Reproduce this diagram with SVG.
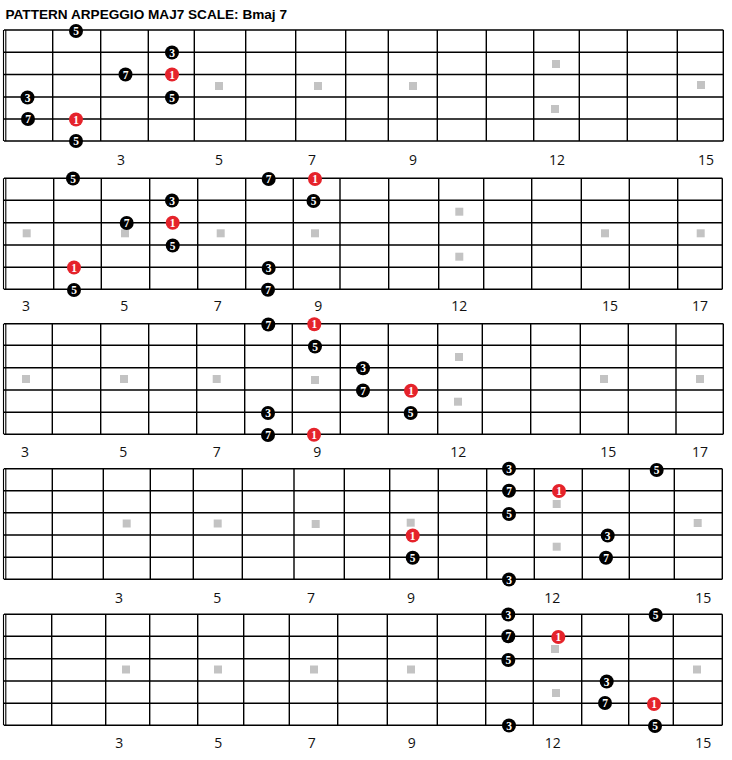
<svg xmlns="http://www.w3.org/2000/svg" width="732" height="760" viewBox="0 0 732 760">
<style>
.ln{fill:none;stroke:#000;stroke-width:1.4}
.nut{fill:none;stroke:#000;stroke-width:1.1}
.mk{fill:#c3c3c3}
.lbl{font-family:"Open Sans","Liberation Sans",sans-serif;font-size:14px;fill:#111;text-anchor:middle}
.title{font-family:"Liberation Sans",Arial,sans-serif;font-weight:bold;font-size:13.6px;fill:#000}
.nt circle{fill:#000}
.nt.r circle{fill:#e5232b}
.nt text{font-family:"Liberation Serif","Times New Roman",serif;font-weight:bold;font-size:11.5px;fill:#fff;text-anchor:middle}
</style>
<rect width="732" height="760" fill="#fff"/>
<text class="title" x="5.5" y="19.3">PATTERN ARPEGGIO MAJ7 SCALE: Bmaj 7</text>

<g id="diagram1">
<path class="ln" d="M4 30H723.3M4 52.3H723.3M4 74.5H723.3M4 97H723.3M4 119H723.3M4 141H723.3"/>
<path class="ln" d="M52.7 30V141M100.7 30V141M148.3 30V141M194.3 30V141M245.7 30V141M295.7 30V141M345.7 30V141M388.3 30V141M437.3 30V141M486.3 30V141M533.7 30V141M579.3 30V141M627.3 30V141M677.3 30V141M723.3 30V141"/>
<path class="nut" d="M3.5 30V141M5.8 30V141"/>
<rect class="mk" x="215" y="82" width="8" height="8"/>
<rect class="mk" x="314" y="82" width="8" height="8"/>
<rect class="mk" x="409" y="82" width="8" height="8"/>
<rect class="mk" x="552" y="60" width="8" height="8"/>
<rect class="mk" x="551" y="105" width="8" height="8"/>
<rect class="mk" x="697" y="81" width="8" height="8"/>
<text class="lbl" x="121" y="164.5">3</text>
<text class="lbl" x="219" y="164.5">5</text>
<text class="lbl" x="312" y="164.5">7</text>
<text class="lbl" x="413" y="164.5">9</text>
<text class="lbl" x="557" y="164.5">12</text>
<text class="lbl" x="706" y="164.5">15</text>
</g>
<g id="d1-n1" class="nt"><circle cx="76" cy="31" r="7"/><text x="76" y="35">5</text></g>
<g id="d1-n2" class="nt"><circle cx="172" cy="52.5" r="7"/><text x="172" y="56.5">3</text></g>
<g id="d1-n3" class="nt"><circle cx="125.5" cy="74.5" r="7"/><text x="125.5" y="78.5">7</text></g>
<g id="d1-n4" class="nt r"><circle cx="172" cy="74.5" r="7"/><text x="172" y="78.5">1</text></g>
<g id="d1-n5" class="nt"><circle cx="27.5" cy="97.5" r="7"/><text x="27.5" y="101.5">3</text></g>
<g id="d1-n6" class="nt"><circle cx="172" cy="97.5" r="7"/><text x="172" y="101.5">5</text></g>
<g id="d1-n7" class="nt"><circle cx="28" cy="119" r="7"/><text x="28" y="123">7</text></g>
<g id="d1-n8" class="nt r"><circle cx="76" cy="119.5" r="7"/><text x="76" y="123.5">1</text></g>
<g id="d1-n9" class="nt"><circle cx="76" cy="141" r="7"/><text x="76" y="145">5</text></g>

<g id="diagram2">
<path class="ln" d="M4 178.3H722.3M4 200.3H722.3M4 222.7H722.3M4 245H722.3M4 267.3H722.3M4 289.3H722.3"/>
<path class="ln" d="M53.7 178.3V289.3M101.3 178.3V289.3M149.7 178.3V289.3M197.7 178.3V289.3M245.7 178.3V289.3M293.3 178.3V289.3M340 178.3V289.3M388.7 178.3V289.3M438.7 178.3V289.3M483.7 178.3V289.3M531.7 178.3V289.3M581.3 178.3V289.3M629.3 178.3V289.3M677.7 178.3V289.3M722.3 178.3V289.3"/>
<path class="nut" d="M3.5 178.3V289.3M5.8 178.3V289.3"/>
<rect class="mk" x="22.7" y="229.3" width="8" height="8"/>
<rect class="mk" x="121" y="229.3" width="8" height="8"/>
<rect class="mk" x="216.7" y="229.3" width="8" height="8"/>
<rect class="mk" x="311" y="229.3" width="8" height="8"/>
<rect class="mk" x="455.3" y="207.7" width="8" height="8"/>
<rect class="mk" x="455.3" y="252.7" width="8" height="8"/>
<rect class="mk" x="601" y="229.3" width="8" height="8"/>
<rect class="mk" x="696.7" y="229.3" width="8" height="8"/>
<text class="lbl" x="26" y="311">3</text>
<text class="lbl" x="124.3" y="311">5</text>
<text class="lbl" x="217.7" y="311">7</text>
<text class="lbl" x="318.3" y="311">9</text>
<text class="lbl" x="459.3" y="311">12</text>
<text class="lbl" x="610" y="311">15</text>
<text class="lbl" x="700" y="311">17</text>
</g>
<g id="d2-n1" class="nt"><circle cx="73" cy="178.5" r="7"/><text x="73" y="182.5">5</text></g>
<g id="d2-n2" class="nt"><circle cx="268.7" cy="179" r="7"/><text x="268.7" y="183">7</text></g>
<g id="d2-n3" class="nt r"><circle cx="315" cy="179" r="7"/><text x="315" y="183">1</text></g>
<g id="d2-n4" class="nt"><circle cx="172" cy="200.5" r="7"/><text x="172" y="204.5">3</text></g>
<g id="d2-n5" class="nt"><circle cx="313.5" cy="201" r="7"/><text x="313.5" y="205">5</text></g>
<g id="d2-n6" class="nt"><circle cx="126.7" cy="223" r="7"/><text x="126.7" y="227">7</text></g>
<g id="d2-n7" class="nt r"><circle cx="172.7" cy="222.7" r="7"/><text x="172.7" y="226.7">1</text></g>
<g id="d2-n8" class="nt"><circle cx="172.7" cy="245.5" r="7"/><text x="172.7" y="249.5">5</text></g>
<g id="d2-n9" class="nt r"><circle cx="74" cy="267.5" r="7"/><text x="74" y="271.5">1</text></g>
<g id="d2-n10" class="nt"><circle cx="268.7" cy="268" r="7"/><text x="268.7" y="272">3</text></g>
<g id="d2-n11" class="nt"><circle cx="74" cy="290" r="7"/><text x="74" y="294">5</text></g>
<g id="d2-n12" class="nt"><circle cx="268" cy="289.8" r="7"/><text x="268" y="293.8">7</text></g>

<g id="diagram3">
<path class="ln" d="M4 323.7H723.3M4 345.3H723.3M4 367.7H723.3M4 390H723.3M4 412.3H723.3M4 434.3H723.3"/>
<path class="ln" d="M52.3 323.7V434.3M100.7 323.7V434.3M148.7 323.7V434.3M196.7 323.7V434.3M244.7 323.7V434.3M292.3 323.7V434.3M340.3 323.7V434.3M388.3 323.7V434.3M437.7 323.7V434.3M482.3 323.7V434.3M530.7 323.7V434.3M580.3 323.7V434.3M628.3 323.7V434.3M676 323.7V434.3M723.3 323.7V434.3"/>
<path class="nut" d="M3.5 323.7V434.3M5.8 323.7V434.3"/>
<rect class="mk" x="22" y="375" width="8" height="8"/>
<rect class="mk" x="120" y="375" width="8" height="8"/>
<rect class="mk" x="212.7" y="375" width="8" height="8"/>
<rect class="mk" x="311" y="376" width="8" height="8"/>
<rect class="mk" x="455" y="353" width="8" height="8"/>
<rect class="mk" x="454" y="397.7" width="8" height="8"/>
<rect class="mk" x="600" y="375" width="8" height="8"/>
<rect class="mk" x="696" y="375" width="8" height="8"/>
<text class="lbl" x="25" y="457">3</text>
<text class="lbl" x="123.3" y="457">5</text>
<text class="lbl" x="216.7" y="457">7</text>
<text class="lbl" x="317.3" y="457">9</text>
<text class="lbl" x="458.3" y="457">12</text>
<text class="lbl" x="608.3" y="457">15</text>
<text class="lbl" x="700" y="457">17</text>
</g>
<g id="d3-n1" class="nt"><circle cx="268.3" cy="324.5" r="7"/><text x="268.3" y="328.5">7</text></g>
<g id="d3-n2" class="nt r"><circle cx="314.3" cy="324.3" r="7"/><text x="314.3" y="328.3">1</text></g>
<g id="d3-n3" class="nt"><circle cx="315" cy="346.5" r="7"/><text x="315" y="350.5">5</text></g>
<g id="d3-n4" class="nt"><circle cx="363" cy="368.3" r="7"/><text x="363" y="372.3">3</text></g>
<g id="d3-n5" class="nt"><circle cx="363" cy="390.5" r="7"/><text x="363" y="394.5">7</text></g>
<g id="d3-n6" class="nt r"><circle cx="411" cy="390.7" r="7"/><text x="411" y="394.7">1</text></g>
<g id="d3-n7" class="nt"><circle cx="268" cy="413" r="7"/><text x="268" y="417">3</text></g>
<g id="d3-n8" class="nt"><circle cx="410.7" cy="413" r="7"/><text x="410.7" y="417">5</text></g>
<g id="d3-n9" class="nt"><circle cx="268" cy="435" r="7"/><text x="268" y="439">7</text></g>
<g id="d3-n10" class="nt r"><circle cx="314" cy="434.7" r="7"/><text x="314" y="438.7">1</text></g>

<g id="diagram4">
<path class="ln" d="M4 468.7H722.3M4 490.7H722.3M4 512.7H722.3M4 535H722.3M4 557.3H722.3M4 579.3H722.3"/>
<path class="ln" d="M52.3 468.7V579.3M103.3 468.7V579.3M150.3 468.7V579.3M193.3 468.7V579.3M242.3 468.7V579.3M294 468.7V579.3M344.3 468.7V579.3M389.7 468.7V579.3M438.3 468.7V579.3M486.7 468.7V579.3M534.3 468.7V579.3M582.3 468.7V579.3M629.3 468.7V579.3M674.3 468.7V579.3M722.3 468.7V579.3"/>
<path class="nut" d="M3.5 468.7V579.3M5.8 468.7V579.3"/>
<rect class="mk" x="122.7" y="519.5" width="8" height="8"/>
<rect class="mk" x="213.7" y="519.5" width="8" height="8"/>
<rect class="mk" x="311.7" y="520" width="8" height="8"/>
<rect class="mk" x="406.7" y="518.7" width="8" height="8"/>
<rect class="mk" x="552.7" y="500" width="8" height="8"/>
<rect class="mk" x="552.7" y="542.7" width="8" height="8"/>
<rect class="mk" x="693.7" y="519" width="8" height="8"/>
<text class="lbl" x="119" y="603">3</text>
<text class="lbl" x="217.3" y="603">5</text>
<text class="lbl" x="311" y="603">7</text>
<text class="lbl" x="411" y="603">9</text>
<text class="lbl" x="552.3" y="603">12</text>
<text class="lbl" x="703.3" y="603">15</text>
</g>
<g id="d4-n1" class="nt"><circle cx="509" cy="468.7" r="7"/><text x="509" y="472.7">3</text></g>
<g id="d4-n2" class="nt"><circle cx="656.7" cy="470" r="7"/><text x="656.7" y="474">5</text></g>
<g id="d4-n3" class="nt"><circle cx="509" cy="490.7" r="7"/><text x="509" y="494.7">7</text></g>
<g id="d4-n4" class="nt r"><circle cx="559" cy="491" r="7"/><text x="559" y="495">1</text></g>
<g id="d4-n5" class="nt"><circle cx="509" cy="514" r="7"/><text x="509" y="518">5</text></g>
<g id="d4-n6" class="nt r"><circle cx="412.7" cy="535.5" r="7"/><text x="412.7" y="539.5">1</text></g>
<g id="d4-n7" class="nt"><circle cx="607.7" cy="535.5" r="7"/><text x="607.7" y="539.5">3</text></g>
<g id="d4-n8" class="nt"><circle cx="412.7" cy="557.7" r="7"/><text x="412.7" y="561.7">5</text></g>
<g id="d4-n9" class="nt"><circle cx="606" cy="557.7" r="7"/><text x="606" y="561.7">7</text></g>
<g id="d4-n10" class="nt"><circle cx="509" cy="579.5" r="7"/><text x="509" y="583.5">3</text></g>

<g id="diagram5">
<path class="ln" d="M4 614.3H722.3M4 636.3H722.3M4 658.7H722.3M4 681H722.3M4 703.3H722.3M4 725.3H722.3"/>
<path class="ln" d="M51.7 614.3V725.3M105.7 614.3V725.3M149.7 614.3V725.3M197.7 614.3V725.3M243.7 614.3V725.3M289.3 614.3V725.3M337.7 614.3V725.3M387.3 614.3V725.3M437.3 614.3V725.3M485.7 614.3V725.3M533.3 614.3V725.3M581.7 614.3V725.3M628.7 614.3V725.3M673.3 614.3V725.3M722.3 614.3V725.3"/>
<path class="nut" d="M3.5 614.3V725.3M5.8 614.3V725.3"/>
<rect class="mk" x="122" y="665.5" width="8" height="8"/>
<rect class="mk" x="214" y="665.5" width="8" height="8"/>
<rect class="mk" x="310" y="665.5" width="8" height="8"/>
<rect class="mk" x="407" y="665.5" width="8" height="8"/>
<rect class="mk" x="551" y="645" width="8" height="8"/>
<rect class="mk" x="552" y="689" width="8" height="8"/>
<rect class="mk" x="693" y="665.5" width="8" height="8"/>
<text class="lbl" x="119.3" y="748">3</text>
<text class="lbl" x="218.3" y="748">5</text>
<text class="lbl" x="311.7" y="748">7</text>
<text class="lbl" x="411.7" y="748">9</text>
<text class="lbl" x="552.7" y="748">12</text>
<text class="lbl" x="703.3" y="748">15</text>
</g>
<g id="d5-n1" class="nt"><circle cx="508.3" cy="614.5" r="7"/><text x="508.3" y="618.5">3</text></g>
<g id="d5-n2" class="nt"><circle cx="655.7" cy="615" r="7"/><text x="655.7" y="619">5</text></g>
<g id="d5-n3" class="nt"><circle cx="508.3" cy="636.3" r="7"/><text x="508.3" y="640.3">7</text></g>
<g id="d5-n4" class="nt r"><circle cx="558.3" cy="637" r="7"/><text x="558.3" y="641">1</text></g>
<g id="d5-n5" class="nt"><circle cx="508.3" cy="660" r="7"/><text x="508.3" y="664">5</text></g>
<g id="d5-n6" class="nt"><circle cx="606.7" cy="681.5" r="7"/><text x="606.7" y="685.5">3</text></g>
<g id="d5-n7" class="nt"><circle cx="605" cy="703" r="7"/><text x="605" y="707">7</text></g>
<g id="d5-n8" class="nt r"><circle cx="654" cy="704" r="7"/><text x="654" y="708">1</text></g>
<g id="d5-n9" class="nt"><circle cx="509" cy="725.5" r="7"/><text x="509" y="729.5">3</text></g>
<g id="d5-n10" class="nt"><circle cx="655" cy="726" r="7"/><text x="655" y="730">5</text></g>
</svg>
